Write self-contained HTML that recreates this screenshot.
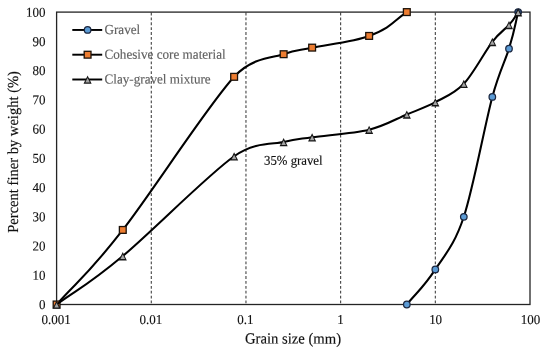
<!DOCTYPE html>
<html><head><meta charset="utf-8"><title>Grain size distribution</title>
<style>
html,body{margin:0;padding:0;background:#fff;}
body{width:550px;height:351px;overflow:hidden;}
svg{display:block;}
text{font-family:"Liberation Serif",serif;}
.tk{font-size:13px;fill:#111;stroke:#111;stroke-width:0.12px;}
.lg{font-size:13.15px;fill:#626262;stroke:#626262;stroke-width:0.15px;}
.ti{font-size:14.7px;fill:#111;stroke:#111;stroke-width:0.15px;}
.ty{font-size:14.57px;}
.an{font-size:12.8px;fill:#111;stroke:#111;stroke-width:0.15px;}
</style></head><body>
<svg width="550" height="351" viewBox="0 0 550 351">
<rect width="550" height="351" fill="#fff"/>
<line x1="151.28" y1="12.10" x2="151.28" y2="304.50" stroke="#3a3a3a" stroke-width="1.05" stroke-dasharray="2.8 2.08" stroke-dashoffset="-0.5"/>
<line x1="245.96" y1="12.10" x2="245.96" y2="304.50" stroke="#3a3a3a" stroke-width="1.05" stroke-dasharray="2.8 2.08" stroke-dashoffset="-0.5"/>
<line x1="340.64" y1="12.10" x2="340.64" y2="304.50" stroke="#3a3a3a" stroke-width="1.05" stroke-dasharray="2.8 2.08" stroke-dashoffset="-0.5"/>
<line x1="435.32" y1="12.10" x2="435.32" y2="304.50" stroke="#3a3a3a" stroke-width="1.05" stroke-dasharray="2.8 2.08" stroke-dashoffset="-0.5"/>
<rect x="56.60" y="12.10" width="473.40" height="292.40" fill="none" stroke="#242424" stroke-width="1.3"/>
<path d="M406.82 304.50 C416.32 292.80 423.44 287.69 435.32 269.41 C444.71 254.96 454.43 245.20 463.82 216.78 C473.32 188.03 484.79 124.92 492.32 96.90 C498.95 72.25 505.21 61.08 509.00 48.65 C515.46 27.45 515.11 24.28 518.17 12.10" fill="none" stroke="#000" stroke-width="2.05" stroke-linecap="round" stroke-linejoin="round"/>
<circle cx="406.82" cy="304.50" r="3.28" fill="#5b9bd5" stroke="#1b2740" stroke-width="1.25"/>
<circle cx="435.32" cy="269.41" r="3.28" fill="#5b9bd5" stroke="#1b2740" stroke-width="1.25"/>
<circle cx="463.82" cy="216.78" r="3.28" fill="#5b9bd5" stroke="#1b2740" stroke-width="1.25"/>
<circle cx="492.32" cy="96.90" r="3.28" fill="#5b9bd5" stroke="#1b2740" stroke-width="1.25"/>
<circle cx="509.00" cy="48.65" r="3.28" fill="#5b9bd5" stroke="#1b2740" stroke-width="1.25"/>
<circle cx="518.17" cy="12.10" r="3.28" fill="#2f4f7d" stroke="#1b2740" stroke-width="1.25"/>
<path d="M56.60 304.50 C78.66 279.65 85.79 277.37 122.78 229.94 C152.37 191.99 207.32 106.10 234.13 76.81 C252.50 56.74 274.73 57.54 283.64 54.21 C296.64 49.34 297.89 50.67 312.14 47.63 C326.39 44.58 353.36 41.85 369.14 35.93 C392.81 27.05 394.26 20.04 406.82 12.10" fill="none" stroke="#000" stroke-width="2.05" stroke-linecap="round" stroke-linejoin="round"/>
<rect x="53.20" y="301.10" width="6.8" height="6.8" fill="#ed7d31" stroke="#1c120a" stroke-width="1.3"/>
<rect x="119.38" y="226.54" width="6.8" height="6.8" fill="#ed7d31" stroke="#1c120a" stroke-width="1.3"/>
<rect x="230.73" y="73.41" width="6.8" height="6.8" fill="#ed7d31" stroke="#1c120a" stroke-width="1.3"/>
<rect x="280.24" y="50.81" width="6.8" height="6.8" fill="#ed7d31" stroke="#1c120a" stroke-width="1.3"/>
<rect x="308.74" y="44.23" width="6.8" height="6.8" fill="#ed7d31" stroke="#1c120a" stroke-width="1.3"/>
<rect x="365.74" y="32.53" width="6.8" height="6.8" fill="#ed7d31" stroke="#1c120a" stroke-width="1.3"/>
<rect x="403.42" y="8.70" width="6.8" height="6.8" fill="#ed7d31" stroke="#1c120a" stroke-width="1.3"/>
<path d="M56.60 304.50 C78.66 288.34 85.79 286.92 122.78 256.03 C152.37 231.33 207.32 175.26 234.13 156.25 C255.14 141.36 273.45 144.48 283.64 142.00 C296.64 138.83 297.89 139.31 312.14 137.25 C326.39 135.19 353.36 133.45 369.14 129.64 C384.92 125.84 395.79 119.02 406.82 114.44 C417.85 109.86 425.82 107.28 435.32 102.16 C444.82 97.04 454.32 93.80 463.82 83.74 C473.32 73.67 484.79 51.59 492.32 41.78 C499.55 32.37 504.86 29.64 509.00 24.89 C515.46 17.47 515.11 16.36 518.17 12.10" fill="none" stroke="#000" stroke-width="2.05" stroke-linecap="round" stroke-linejoin="round"/>
<path d="M56.60 300.55 L60.65 308.85 L52.55 308.85 Z" fill="#161616"/><path d="M56.60 302.90 L58.90 307.40 L54.30 307.40 Z" fill="#a5a5a5"/>
<path d="M122.78 252.08 L126.83 260.38 L118.73 260.38 Z" fill="#161616"/><path d="M122.78 254.44 L125.08 258.93 L120.48 258.93 Z" fill="#a5a5a5"/>
<path d="M234.13 152.30 L238.18 160.60 L230.08 160.60 Z" fill="#161616"/><path d="M234.13 154.66 L236.43 159.15 L231.83 159.15 Z" fill="#a5a5a5"/>
<path d="M283.64 138.05 L287.69 146.35 L279.59 146.35 Z" fill="#161616"/><path d="M283.64 140.40 L285.94 144.90 L281.34 144.90 Z" fill="#a5a5a5"/>
<path d="M312.14 133.30 L316.19 141.60 L308.09 141.60 Z" fill="#161616"/><path d="M312.14 135.65 L314.44 140.15 L309.84 140.15 Z" fill="#a5a5a5"/>
<path d="M369.14 125.69 L373.19 133.99 L365.09 133.99 Z" fill="#161616"/><path d="M369.14 128.05 L371.44 132.54 L366.84 132.54 Z" fill="#a5a5a5"/>
<path d="M406.82 110.49 L410.87 118.79 L402.77 118.79 Z" fill="#161616"/><path d="M406.82 112.84 L409.12 117.34 L404.52 117.34 Z" fill="#a5a5a5"/>
<path d="M435.32 98.21 L439.37 106.51 L431.27 106.51 Z" fill="#161616"/><path d="M435.32 100.56 L437.62 105.06 L433.02 105.06 Z" fill="#a5a5a5"/>
<path d="M463.82 79.79 L467.87 88.09 L459.77 88.09 Z" fill="#161616"/><path d="M463.82 82.14 L466.12 86.64 L461.52 86.64 Z" fill="#a5a5a5"/>
<path d="M492.32 37.83 L496.37 46.13 L488.27 46.13 Z" fill="#161616"/><path d="M492.32 40.18 L494.62 44.68 L490.02 44.68 Z" fill="#a5a5a5"/>
<path d="M509.00 20.94 L513.05 29.24 L504.95 29.24 Z" fill="#161616"/><path d="M509.00 23.29 L511.29 27.79 L506.70 27.79 Z" fill="#a5a5a5"/>
<path d="M518.17 8.15 L522.22 16.45 L514.12 16.45 Z" fill="#161616"/><path d="M518.17 10.50 L520.47 15.00 L515.87 15.00 Z" fill="#a5a5a5"/>
<line x1="72.3" y1="29.95" x2="102.2" y2="29.95" stroke="#000" stroke-width="1.95"/>
<circle cx="87.60" cy="29.95" r="3.28" fill="#5b9bd5" stroke="#1b2740" stroke-width="1.25"/>
<text transform="translate(104.50 33.95) rotate(0.05) scale(1.000 1.045)" class="lg" text-anchor="start">Gravel</text>
<line x1="72.3" y1="54.70" x2="102.2" y2="54.70" stroke="#000" stroke-width="1.95"/>
<rect x="84.20" y="51.30" width="6.8" height="6.8" fill="#ed7d31" stroke="#1c120a" stroke-width="1.3"/>
<text transform="translate(104.50 58.70) rotate(0.05) scale(1.000 1.045)" class="lg" text-anchor="start">Cohesive core material</text>
<line x1="72.3" y1="79.50" x2="102.2" y2="79.50" stroke="#000" stroke-width="1.95"/>
<path d="M87.60 75.55 L91.65 83.85 L83.55 83.85 Z" fill="#161616"/><path d="M87.60 77.90 L89.90 82.40 L85.30 82.40 Z" fill="#a5a5a5"/>
<text transform="translate(104.50 83.50) rotate(0.05) scale(1.000 1.045)" class="lg" text-anchor="start">Clay-gravel mixture</text>
<text transform="translate(45.40 309.05) rotate(0.05) scale(1.000 1.040)" class="tk" text-anchor="end">0</text>
<text transform="translate(45.40 279.81) rotate(0.05) scale(1.000 1.040)" class="tk" text-anchor="end">10</text>
<text transform="translate(45.40 250.57) rotate(0.05) scale(1.000 1.040)" class="tk" text-anchor="end">20</text>
<text transform="translate(45.40 221.33) rotate(0.05) scale(1.000 1.040)" class="tk" text-anchor="end">30</text>
<text transform="translate(45.40 192.09) rotate(0.05) scale(1.000 1.040)" class="tk" text-anchor="end">40</text>
<text transform="translate(45.40 162.85) rotate(0.05) scale(1.000 1.040)" class="tk" text-anchor="end">50</text>
<text transform="translate(45.40 133.61) rotate(0.05) scale(1.000 1.040)" class="tk" text-anchor="end">60</text>
<text transform="translate(45.40 104.37) rotate(0.05) scale(1.000 1.040)" class="tk" text-anchor="end">70</text>
<text transform="translate(45.40 75.13) rotate(0.05) scale(1.000 1.040)" class="tk" text-anchor="end">80</text>
<text transform="translate(45.40 45.89) rotate(0.05) scale(1.000 1.040)" class="tk" text-anchor="end">90</text>
<text transform="translate(45.40 16.65) rotate(0.05) scale(1.000 1.040)" class="tk" text-anchor="end">100</text>
<text transform="translate(56.10 324.00) rotate(0.05) scale(1.000 1.040)" class="tk" text-anchor="middle">0.001</text>
<text transform="translate(150.78 324.00) rotate(0.05) scale(1.000 1.040)" class="tk" text-anchor="middle">0.01</text>
<text transform="translate(245.46 324.00) rotate(0.05) scale(1.000 1.040)" class="tk" text-anchor="middle">0.1</text>
<text transform="translate(340.54 324.00) rotate(0.05) scale(1.000 1.040)" class="tk" text-anchor="middle">1</text>
<text transform="translate(435.62 324.00) rotate(0.05) scale(1.000 1.040)" class="tk" text-anchor="middle">10</text>
<text transform="translate(530.50 324.00) rotate(0.05) scale(1.000 1.040)" class="tk" text-anchor="middle">100</text>
<text transform="translate(293.00 343.60) rotate(0.05) scale(1.000 1.045)" class="ti" text-anchor="middle">Grain size (mm)</text>
<text transform="translate(18.00 151.90) rotate(-90.05) scale(1.000 1.045)" class="ti ty" text-anchor="middle">Percent finer by weight (%)</text>
<text transform="translate(264.00 164.70) rotate(0.05) scale(1.000 1.045)" class="an" text-anchor="start">35% gravel</text>
</svg>
</body></html>
